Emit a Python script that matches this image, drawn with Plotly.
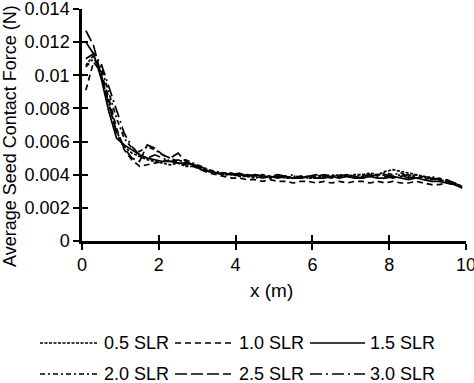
import plotly.graph_objects as go

x_m = [round(0.1 + 0.2 * i, 1) for i in range(50)]

slr_05 = [0.0106, 0.0112, 0.0100, 0.0083, 0.0066, 0.0057, 0.0053, 0.0051, 0.0049, 0.0048,
          0.0047, 0.0046, 0.0047, 0.0045, 0.0045, 0.0044, 0.0042, 0.0041, 0.0040, 0.0040,
          0.0039, 0.0039, 0.0038, 0.0039, 0.0038, 0.0039, 0.0038, 0.0038, 0.0039, 0.0038,
          0.0038, 0.0039, 0.0039, 0.0040, 0.0039, 0.0040, 0.0040, 0.0041, 0.0040, 0.0042,
          0.0043, 0.0042, 0.0041, 0.0040, 0.0039, 0.0038, 0.0037, 0.0036, 0.0035, 0.0033]
slr_10 = [0.0091, 0.0108, 0.0102, 0.0086, 0.0068, 0.0055, 0.0049, 0.0045, 0.0046, 0.0047,
          0.0048, 0.0049, 0.0047, 0.0046, 0.0045, 0.0043, 0.0041, 0.0040, 0.0039, 0.0038,
          0.0038, 0.0037, 0.0037, 0.0036, 0.0037, 0.0036, 0.0036, 0.0035, 0.0036, 0.0036,
          0.0035, 0.0036, 0.0035, 0.0036, 0.0035, 0.0036, 0.0036, 0.0035, 0.0036, 0.0035,
          0.0036, 0.0035, 0.0035, 0.0036, 0.0035, 0.0034, 0.0034, 0.0035, 0.0034, 0.0033]
slr_15 = [0.0120, 0.0113, 0.0098, 0.0078, 0.0062, 0.0058, 0.0055, 0.0052, 0.0050, 0.0049,
          0.0048, 0.0048, 0.0047, 0.0047, 0.0046, 0.0045, 0.0042, 0.0041, 0.0041, 0.0040,
          0.0040, 0.0039, 0.0040, 0.0039, 0.0039, 0.0038, 0.0039, 0.0038, 0.0038, 0.0039,
          0.0038, 0.0038, 0.0039, 0.0038, 0.0039, 0.0038, 0.0038, 0.0039, 0.0038, 0.0038,
          0.0039, 0.0038, 0.0037, 0.0038, 0.0037, 0.0036, 0.0036, 0.0035, 0.0034, 0.0032]
slr_20 = [0.0105, 0.0110, 0.0105, 0.0090, 0.0074, 0.0062, 0.0056, 0.0054, 0.0057, 0.0055,
          0.0052, 0.0050, 0.0048, 0.0049, 0.0047, 0.0045, 0.0043, 0.0042, 0.0041, 0.0041,
          0.0040, 0.0040, 0.0039, 0.0040, 0.0039, 0.0039, 0.0038, 0.0039, 0.0039, 0.0038,
          0.0039, 0.0039, 0.0040, 0.0039, 0.0040, 0.0039, 0.0040, 0.0039, 0.0040, 0.0041,
          0.0040, 0.0041, 0.0039, 0.0040, 0.0038, 0.0039, 0.0037, 0.0036, 0.0035, 0.0033]
slr_25 = [0.0127, 0.0118, 0.0100, 0.0082, 0.0065, 0.0056, 0.0050, 0.0048, 0.0058, 0.0056,
          0.0052, 0.0050, 0.0053, 0.0048, 0.0046, 0.0043, 0.0042, 0.0041, 0.0040, 0.0041,
          0.0039, 0.0040, 0.0039, 0.0038, 0.0039, 0.0040, 0.0039, 0.0038, 0.0039, 0.0039,
          0.0040, 0.0039, 0.0038, 0.0039, 0.0040, 0.0039, 0.0038, 0.0039, 0.0040, 0.0039,
          0.0038, 0.0039, 0.0040, 0.0038, 0.0039, 0.0037, 0.0038, 0.0036, 0.0035, 0.0032]
slr_30 = [0.0110, 0.0113, 0.0107, 0.0093, 0.0078, 0.0065, 0.0057, 0.0052, 0.0050, 0.0052,
          0.0050, 0.0048, 0.0049, 0.0047, 0.0046, 0.0044, 0.0043, 0.0041, 0.0040, 0.0040,
          0.0041, 0.0039, 0.0040, 0.0039, 0.0038, 0.0039, 0.0039, 0.0040, 0.0038, 0.0039,
          0.0039, 0.0040, 0.0039, 0.0040, 0.0039, 0.0038, 0.0039, 0.0040, 0.0039, 0.0040,
          0.0039, 0.0040, 0.0038, 0.0039, 0.0037, 0.0038, 0.0036, 0.0037, 0.0035, 0.0032]

names = ["0.5 SLR", "1.0 SLR", "1.5 SLR", "2.0 SLR", "2.5 SLR", "3.0 SLR"]
series = [slr_05, slr_10, slr_15, slr_20, slr_25, slr_30]
dashes = ["3px,1.5px", "6px,4px", "solid", "5px,3px,2px,3px", "12px,4px", "12px,4px,2px,4px"]

y_ticks = [0, 0.002, 0.004, 0.006, 0.008, 0.01, 0.012, 0.014]
y_labels = ["0", "0.002", "0.004", "0.006", "0.008", "0.01", "0.012", "0.014"]
x_ticks = [0, 2, 4, 6, 8, 10]

FONT = "Liberation Sans, Arial, sans-serif"
FS = 18

# plot-area geometry (pixels) used to place the manual legend
W, H = 474, 383
ML, MR, MT, MB = 82, 8, 9, 142
PW, PH = W - ML - MR, H - MT - MB


def px_x(p):
    return (p - ML) / PW


def px_y(p):
    return (H - MB - p) / PH


fig = go.Figure()
for nm, ys, d in zip(names, series, dashes):
    fig.add_trace(go.Scatter(x=x_m, y=ys, name=nm, mode="lines",
                             line=dict(color="black", width=1.7, dash=d),
                             showlegend=False))

axis_common = dict(showgrid=False, zeroline=False, showline=True, linecolor="black",
                   linewidth=2.5, ticks="outside", ticklen=6, tickwidth=2, tickcolor="black",
                   automargin=False, ticklabeloverflow="allow",
                   tickfont=dict(family=FONT, size=FS, color="black"))

fig.update_layout(
    width=W, height=H,
    margin=dict(l=ML, r=MR, t=MT, b=MB),
    plot_bgcolor="white", paper_bgcolor="white",
    font=dict(family=FONT, size=FS, color="black"),
    xaxis=dict(range=[0, 10.0001], tickvals=x_ticks, ticktext=[str(v) for v in x_ticks],
               **axis_common),
    yaxis=dict(range=[0, 0.014], tickvals=y_ticks, ticktext=y_labels, **axis_common),
    xaxis2=dict(overlaying="x", range=[0, 10.0001], tickvals=x_ticks, showticklabels=False,
                showline=False, ticks="inside", ticklen=6, tickwidth=2, tickcolor="black",
                showgrid=False, zeroline=False, side="bottom", automargin=False),
    yaxis2=dict(overlaying="y", range=[0, 0.014], tickvals=y_ticks, showticklabels=False,
                showline=False, ticks="inside", ticklen=6, tickwidth=2, tickcolor="black",
                showgrid=False, zeroline=False, side="left", automargin=False),
    showlegend=False,
)

fig.add_trace(go.Scatter(x=[None], y=[None], xaxis="x2", yaxis="y2",
                         showlegend=False, hoverinfo="skip"))

# axis titles
fig.add_annotation(text="Average Seed Contact Force (N)", textangle=-90,
                   xref="paper", yref="paper", x=px_x(10), y=px_y(136),
                   xanchor="center", yanchor="middle", showarrow=False,
                   font=dict(family=FONT, size=FS, color="black"))
fig.add_annotation(text="x (m)", xref="paper", yref="paper", x=px_x(271), y=px_y(290),
                   xanchor="center", yanchor="middle", showarrow=False,
                   font=dict(family=FONT, size=19, color="black"))

# manual legend (two rows of three entries)
rows_y = [343, 374]
line_x = [(40, 97), (175, 231), (310, 365)]
text_x = [102, 237, 368]
for i, (nm, d) in enumerate(zip(names, dashes)):
    r, c = divmod(i, 3)
    yy = px_y(rows_y[r])
    fig.add_shape(type="line", xref="paper", yref="paper",
                  x0=px_x(line_x[c][0]), x1=px_x(line_x[c][1]), y0=yy, y1=yy,
                  line=dict(color="black", width=1.6, dash=d))
    fig.add_annotation(text=nm, xref="paper", yref="paper", x=px_x(text_x[c]), y=yy,
                       xanchor="left", yanchor="middle", showarrow=False,
                       font=dict(family=FONT, size=FS, color="black"))

fig.write_html("out.html", config={"displayModeBar": False},
               post_script="document.body.style.margin='0';document.body.style.overflow='hidden';")
